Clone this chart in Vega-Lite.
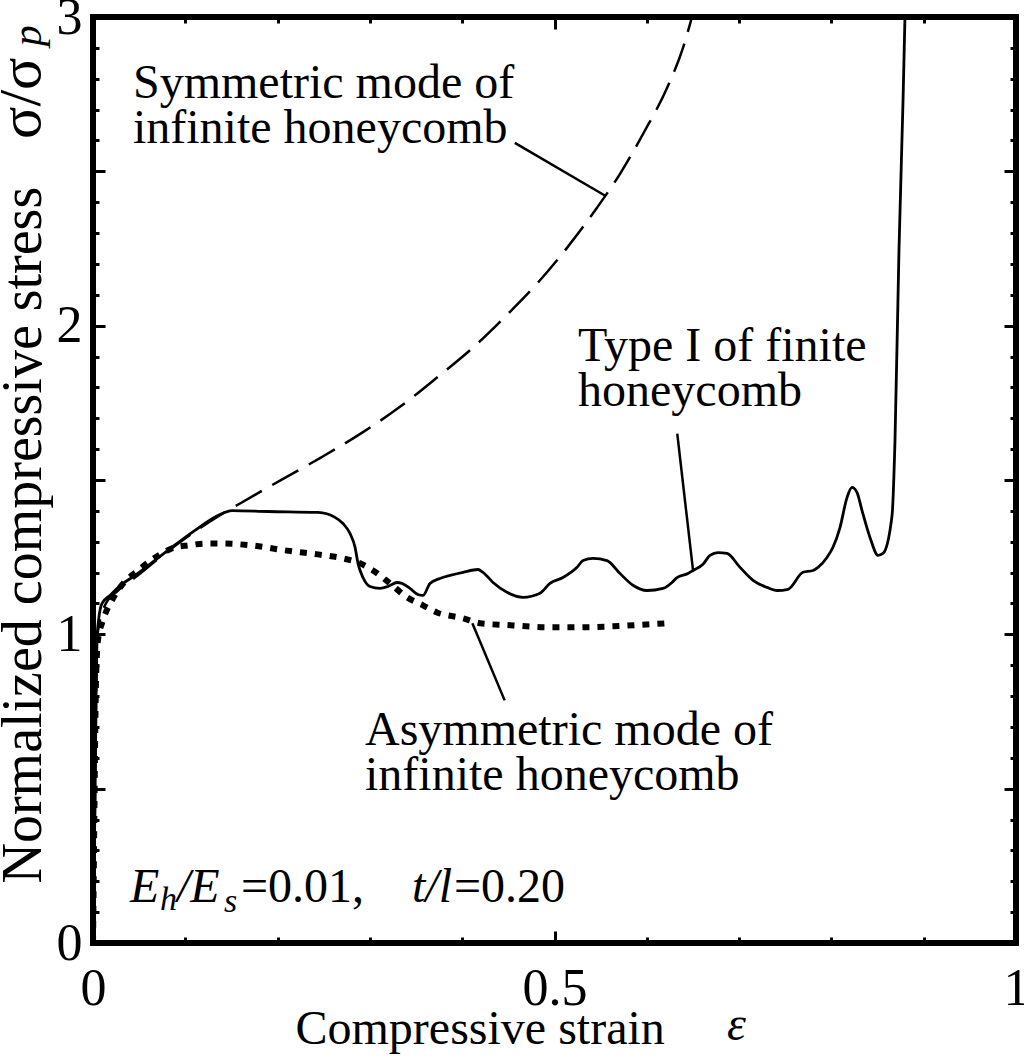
{
  "$schema": "https://vega.github.io/schema/vega-lite/v6.json",
  "width": 923,
  "height": 926,
  "autosize": {"type": "none"},
  "padding": {"left": 93, "top": 17, "right": 8, "bottom": 121},
  "background": "white",
  "datasets": {
    "typeI": [
      {"strain": 0, "stress": 0},
      {"strain": 0.0022, "stress": 0.463},
      {"strain": 0.0033, "stress": 0.786},
      {"strain": 0.0043, "stress": 0.981},
      {"strain": 0.006, "stress": 1.045},
      {"strain": 0.0098, "stress": 1.1},
      {"strain": 0.0184, "stress": 1.126},
      {"strain": 0.0271, "stress": 1.152},
      {"strain": 0.0455, "stress": 1.191},
      {"strain": 0.078, "stress": 1.265},
      {"strain": 0.1105, "stress": 1.337},
      {"strain": 0.1354, "stress": 1.385},
      {"strain": 0.1506, "stress": 1.401},
      {"strain": 0.1896, "stress": 1.398},
      {"strain": 0.2438, "stress": 1.395},
      {"strain": 0.2622, "stress": 1.379},
      {"strain": 0.2709, "stress": 1.359},
      {"strain": 0.2784, "stress": 1.327},
      {"strain": 0.2839, "stress": 1.282},
      {"strain": 0.2871, "stress": 1.23},
      {"strain": 0.2925, "stress": 1.184},
      {"strain": 0.3001, "stress": 1.155},
      {"strain": 0.3109, "stress": 1.149},
      {"strain": 0.3196, "stress": 1.155},
      {"strain": 0.3294, "stress": 1.168},
      {"strain": 0.3348, "stress": 1.165},
      {"strain": 0.3434, "stress": 1.149},
      {"strain": 0.3521, "stress": 1.129},
      {"strain": 0.3575, "stress": 1.126},
      {"strain": 0.3651, "stress": 1.165},
      {"strain": 0.3759, "stress": 1.181},
      {"strain": 0.3868, "stress": 1.191},
      {"strain": 0.4009, "stress": 1.201},
      {"strain": 0.4171, "stress": 1.21},
      {"strain": 0.4225, "stress": 1.201},
      {"strain": 0.4334, "stress": 1.168},
      {"strain": 0.4485, "stress": 1.136},
      {"strain": 0.4659, "stress": 1.12},
      {"strain": 0.4843, "stress": 1.133},
      {"strain": 0.4951, "stress": 1.165},
      {"strain": 0.5092, "stress": 1.184},
      {"strain": 0.5244, "stress": 1.217},
      {"strain": 0.5309, "stress": 1.239},
      {"strain": 0.5417, "stress": 1.246},
      {"strain": 0.5569, "stress": 1.239},
      {"strain": 0.571, "stress": 1.197},
      {"strain": 0.585, "stress": 1.159},
      {"strain": 0.6002, "stress": 1.142},
      {"strain": 0.6176, "stress": 1.149},
      {"strain": 0.6273, "stress": 1.168},
      {"strain": 0.6327, "stress": 1.184},
      {"strain": 0.6446, "stress": 1.197},
      {"strain": 0.6501, "stress": 1.207},
      {"strain": 0.6609, "stress": 1.227},
      {"strain": 0.6685, "stress": 1.256},
      {"strain": 0.6771, "stress": 1.265},
      {"strain": 0.6869, "stress": 1.262},
      {"strain": 0.701, "stress": 1.217},
      {"strain": 0.7151, "stress": 1.175},
      {"strain": 0.7302, "stress": 1.152},
      {"strain": 0.7411, "stress": 1.142},
      {"strain": 0.753, "stress": 1.146},
      {"strain": 0.7692, "stress": 1.201},
      {"strain": 0.7801, "stress": 1.207},
      {"strain": 0.7855, "stress": 1.217},
      {"strain": 0.7952, "stress": 1.249},
      {"strain": 0.8017, "stress": 1.282},
      {"strain": 0.8093, "stress": 1.346},
      {"strain": 0.8169, "stress": 1.443},
      {"strain": 0.8223, "stress": 1.476},
      {"strain": 0.8277, "stress": 1.46},
      {"strain": 0.8332, "stress": 1.401},
      {"strain": 0.8418, "stress": 1.314},
      {"strain": 0.8505, "stress": 1.256},
      {"strain": 0.8559, "stress": 1.262},
      {"strain": 0.8657, "stress": 1.385},
      {"strain": 0.8689, "stress": 1.628},
      {"strain": 0.8732, "stress": 2.243},
      {"strain": 0.8776, "stress": 2.728},
      {"strain": 0.8797, "stress": 3.0}
    ],
    "asym": [
      {"strain": 0, "stress": 0},
      {"strain": 0.0011, "stress": 0.301},
      {"strain": 0.0022, "stress": 0.625},
      {"strain": 0.0033, "stress": 0.851},
      {"strain": 0.0054, "stress": 0.981},
      {"strain": 0.0108, "stress": 1.045},
      {"strain": 0.0206, "stress": 1.11},
      {"strain": 0.0293, "stress": 1.152},
      {"strain": 0.0488, "stress": 1.207},
      {"strain": 0.0748, "stress": 1.262},
      {"strain": 0.0888, "stress": 1.282},
      {"strain": 0.1029, "stress": 1.288},
      {"strain": 0.1213, "stress": 1.294},
      {"strain": 0.1398, "stress": 1.294},
      {"strain": 0.1723, "stress": 1.288},
      {"strain": 0.208, "stress": 1.272},
      {"strain": 0.2438, "stress": 1.259},
      {"strain": 0.2709, "stress": 1.246},
      {"strain": 0.2893, "stress": 1.23},
      {"strain": 0.3034, "stress": 1.207},
      {"strain": 0.3218, "stress": 1.165},
      {"strain": 0.3402, "stress": 1.12},
      {"strain": 0.3575, "stress": 1.094},
      {"strain": 0.3727, "stress": 1.071},
      {"strain": 0.4009, "stress": 1.052},
      {"strain": 0.4193, "stress": 1.036},
      {"strain": 0.455, "stress": 1.029},
      {"strain": 0.4919, "stress": 1.023},
      {"strain": 0.5276, "stress": 1.023},
      {"strain": 0.5634, "stress": 1.026},
      {"strain": 0.6002, "stress": 1.032},
      {"strain": 0.6219, "stress": 1.036}
    ],
    "sym": [
      {"strain": 0, "stress": 0},
      {"strain": 0.0022, "stress": 0.463},
      {"strain": 0.0033, "stress": 0.786},
      {"strain": 0.0043, "stress": 0.981},
      {"strain": 0.0065, "stress": 1.029},
      {"strain": 0.013, "stress": 1.094},
      {"strain": 0.0271, "stress": 1.142},
      {"strain": 0.0455, "stress": 1.184},
      {"strain": 0.078, "stress": 1.262},
      {"strain": 0.1105, "stress": 1.333},
      {"strain": 0.1354, "stress": 1.382},
      {"strain": 0.1593, "stress": 1.424},
      {"strain": 0.2026, "stress": 1.498},
      {"strain": 0.2459, "stress": 1.571},
      {"strain": 0.2925, "stress": 1.655},
      {"strain": 0.3326, "stress": 1.737},
      {"strain": 0.3727, "stress": 1.832},
      {"strain": 0.4117, "stress": 1.929},
      {"strain": 0.4485, "stress": 2.035},
      {"strain": 0.481, "stress": 2.136},
      {"strain": 0.5135, "stress": 2.252},
      {"strain": 0.546, "stress": 2.382},
      {"strain": 0.571, "stress": 2.492},
      {"strain": 0.5959, "stress": 2.621},
      {"strain": 0.6219, "stress": 2.77},
      {"strain": 0.6392, "stress": 2.9},
      {"strain": 0.649, "stress": 3.0}
    ]
  },
  "resolve": {"axis": {"x": "independent", "y": "independent"}},
  "layer": [
    {
      "data": {"name": "sym"},
      "mark": {"type": "line", "stroke": "black", "strokeWidth": 2.5, "strokeDash": [30, 12], "interpolate": "monotone", "clip": true},
      "encoding": {
        "x": {
          "field": "strain",
          "type": "quantitative",
          "scale": {"domain": [0, 1], "nice": false},
          "axis": {
            "orient": "bottom",
            "values": [0, 0.1, 0.2, 0.3, 0.4, 0.5, 0.6, 0.7, 0.8, 0.9, 1.0],
            "labelExpr": "abs(datum.value) < 0.001 ? '0' : abs(datum.value - 1) < 0.001 ? '1' : abs(datum.value - 0.5) < 0.001 ? '0.5' : ''",
            "tickSize": {"condition": {"test": "abs(datum.value*2 - round(datum.value*2)) < 0.001", "value": -12}, "value": -6},
            "labelPadding": 32,
            "title": "Compressive strain",
            "titleFontSize": 48,
            "titleAlign": "left",
            "titleAnchor": null,
            "titleBaseline": "alphabetic",
            "titleX": 202,
            "titleY": 100
          }
        },
        "y": {
          "field": "stress",
          "type": "quantitative",
          "scale": {"domain": [0, 3], "nice": false},
          "axis": {
            "orient": "left",
            "values": [0, 0.1, 0.2, 0.3, 0.4, 0.5, 0.6, 0.7, 0.8, 0.9, 1.0, 1.1, 1.2, 1.3, 1.4, 1.5, 1.6, 1.7, 1.8, 1.9, 2.0, 2.1, 2.2, 2.3, 2.4, 2.5, 2.6, 2.7, 2.8, 2.9, 3.0],
            "labelExpr": "abs(datum.value - round(datum.value)) < 0.001 ? '' + round(datum.value) : ''",
            "tickSize": {"condition": {"test": "abs(datum.value*2 - round(datum.value*2)) < 0.001", "value": -12}, "value": -6},
            "labelPadding": 23,
            "title": "Normalized compressive stress",
            "titleFontSize": 56,
            "titleAngle": 270,
            "titleAlign": "left",
            "titleAnchor": null,
            "titleBaseline": "alphabetic",
            "titleX": -53,
            "titleY": 866
          }
        }
      }
    },
    {
      "data": {"name": "asym"},
      "mark": {"type": "line", "stroke": "black", "strokeWidth": 6, "strokeDash": [7, 8], "interpolate": "monotone", "clip": true},
      "encoding": {
        "x": {"field": "strain", "type": "quantitative", "axis": null},
        "y": {"field": "stress", "type": "quantitative", "axis": null}
      }
    },
    {
      "data": {"name": "typeI"},
      "mark": {"type": "line", "stroke": "black", "strokeWidth": 2.8, "interpolate": "monotone", "clip": true},
      "encoding": {
        "x": {"field": "strain", "type": "quantitative", "axis": null},
        "y": {"field": "stress", "type": "quantitative", "axis": null}
      }
    },
    {
      "data": {
        "values": [
          {"x": 0.457, "y": 2.592, "x2": 0.555, "y2": 2.421},
          {"x": 0.633, "y": 1.65, "x2": 0.6501, "y2": 1.207},
          {"x": 0.411, "y": 1.036, "x2": 0.446, "y2": 0.786}
        ]
      },
      "mark": {"type": "rule", "stroke": "black", "strokeWidth": 2.5},
      "encoding": {
        "x": {
          "field": "x",
          "type": "quantitative",
          "axis": {
            "orient": "top",
            "values": [0, 0.1, 0.2, 0.3, 0.4, 0.5, 0.6, 0.7, 0.8, 0.9, 1.0],
            "labels": false,
            "title": null,
            "tickSize": {"condition": {"test": "abs(datum.value*2 - round(datum.value*2)) < 0.001", "value": -12}, "value": -6}
          }
        },
        "y": {
          "field": "y",
          "type": "quantitative",
          "axis": {
            "orient": "right",
            "values": [0, 0.1, 0.2, 0.3, 0.4, 0.5, 0.6, 0.7, 0.8, 0.9, 1.0, 1.1, 1.2, 1.3, 1.4, 1.5, 1.6, 1.7, 1.8, 1.9, 2.0, 2.1, 2.2, 2.3, 2.4, 2.5, 2.6, 2.7, 2.8, 2.9, 3.0],
            "labels": false,
            "title": null,
            "tickSize": {"condition": {"test": "abs(datum.value*2 - round(datum.value*2)) < 0.001", "value": -12}, "value": -6}
          }
        },
        "x2": {"field": "x2"},
        "y2": {"field": "y2"}
      }
    },
    {
      "data": {
        "values": [
          {"x": 0.0433, "y": 2.738, "text": "Symmetric mode of\ninfinite honeycomb"},
          {"x": 0.5255, "y": 1.887, "text": "Type I of finite\nhoneycomb"},
          {"x": 0.2947, "y": 0.641, "text": "Asymmetric mode of\ninfinite honeycomb"},
          {"x": 0.1603, "y": 0.1327, "text": "=0.01,"},
          {"x": 0.3911, "y": 0.1327, "text": "=0.20"}
        ]
      },
      "mark": {"type": "text", "align": "left", "baseline": "alphabetic", "fontSize": 48, "lineBreak": "\n", "lineHeight": 45, "color": "black"},
      "encoding": {
        "x": {"field": "x", "type": "quantitative", "axis": null},
        "y": {"field": "y", "type": "quantitative", "axis": null},
        "text": {"field": "text"}
      }
    },
    {
      "data": {
        "values": [
          {"x": 0.0401, "y": 0.1327, "text": "E"},
          {"x": 0.091, "y": 0.1327, "text": "/E"},
          {"x": 0.3456, "y": 0.1327, "text": "t/l"},
          {"x": 0.687, "y": -0.314, "text": "ε"}
        ]
      },
      "mark": {"type": "text", "align": "left", "baseline": "alphabetic", "fontSize": 48, "fontStyle": "italic", "color": "black"},
      "encoding": {
        "x": {"field": "x", "type": "quantitative", "axis": null},
        "y": {"field": "y", "type": "quantitative", "axis": null},
        "text": {"field": "text"}
      }
    },
    {
      "data": {
        "values": [
          {"x": 0.0726, "y": 0.107, "text": "h"},
          {"x": 0.142, "y": 0.1003, "text": "s"}
        ]
      },
      "mark": {"type": "text", "align": "left", "baseline": "alphabetic", "fontSize": 34, "fontStyle": "italic", "color": "black"},
      "encoding": {
        "x": {"field": "x", "type": "quantitative", "axis": null},
        "y": {"field": "y", "type": "quantitative", "axis": null},
        "text": {"field": "text"}
      }
    },
    {
      "data": {
        "values": [
          {"x": -0.0574, "y": 2.605, "text": "σ/σ"}
        ]
      },
      "mark": {"type": "text", "align": "left", "baseline": "alphabetic", "fontSize": 60, "angle": 270, "color": "black"},
      "encoding": {
        "x": {"field": "x", "type": "quantitative", "axis": null},
        "y": {"field": "y", "type": "quantitative", "axis": null},
        "text": {"field": "text"}
      }
    },
    {
      "data": {
        "values": [
          {"x": -0.0565, "y": 2.905, "text": "p"}
        ]
      },
      "mark": {"type": "text", "align": "left", "baseline": "alphabetic", "fontSize": 42, "fontStyle": "italic", "angle": 270, "color": "black"},
      "encoding": {
        "x": {"field": "x", "type": "quantitative", "axis": null},
        "y": {"field": "y", "type": "quantitative", "axis": null},
        "text": {"field": "text"}
      }
    }
  ],
  "config": {
    "font": "Liberation Serif",
    "view": {"stroke": "black", "strokeWidth": 6},
    "axis": {
      "domain": false,
      "grid": false,
      "tickColor": "black",
      "tickWidth": 3,
      "labelColor": "black",
      "labelFont": "Liberation Serif",
      "labelFontSize": 52,
      "labelFlush": false,
      "labelOverlap": false,
      "labelBound": false,
      "titleColor": "black",
      "titleFont": "Liberation Serif",
      "titleFontWeight": "normal"
    },
    "text": {"font": "Liberation Serif"}
  }
}
